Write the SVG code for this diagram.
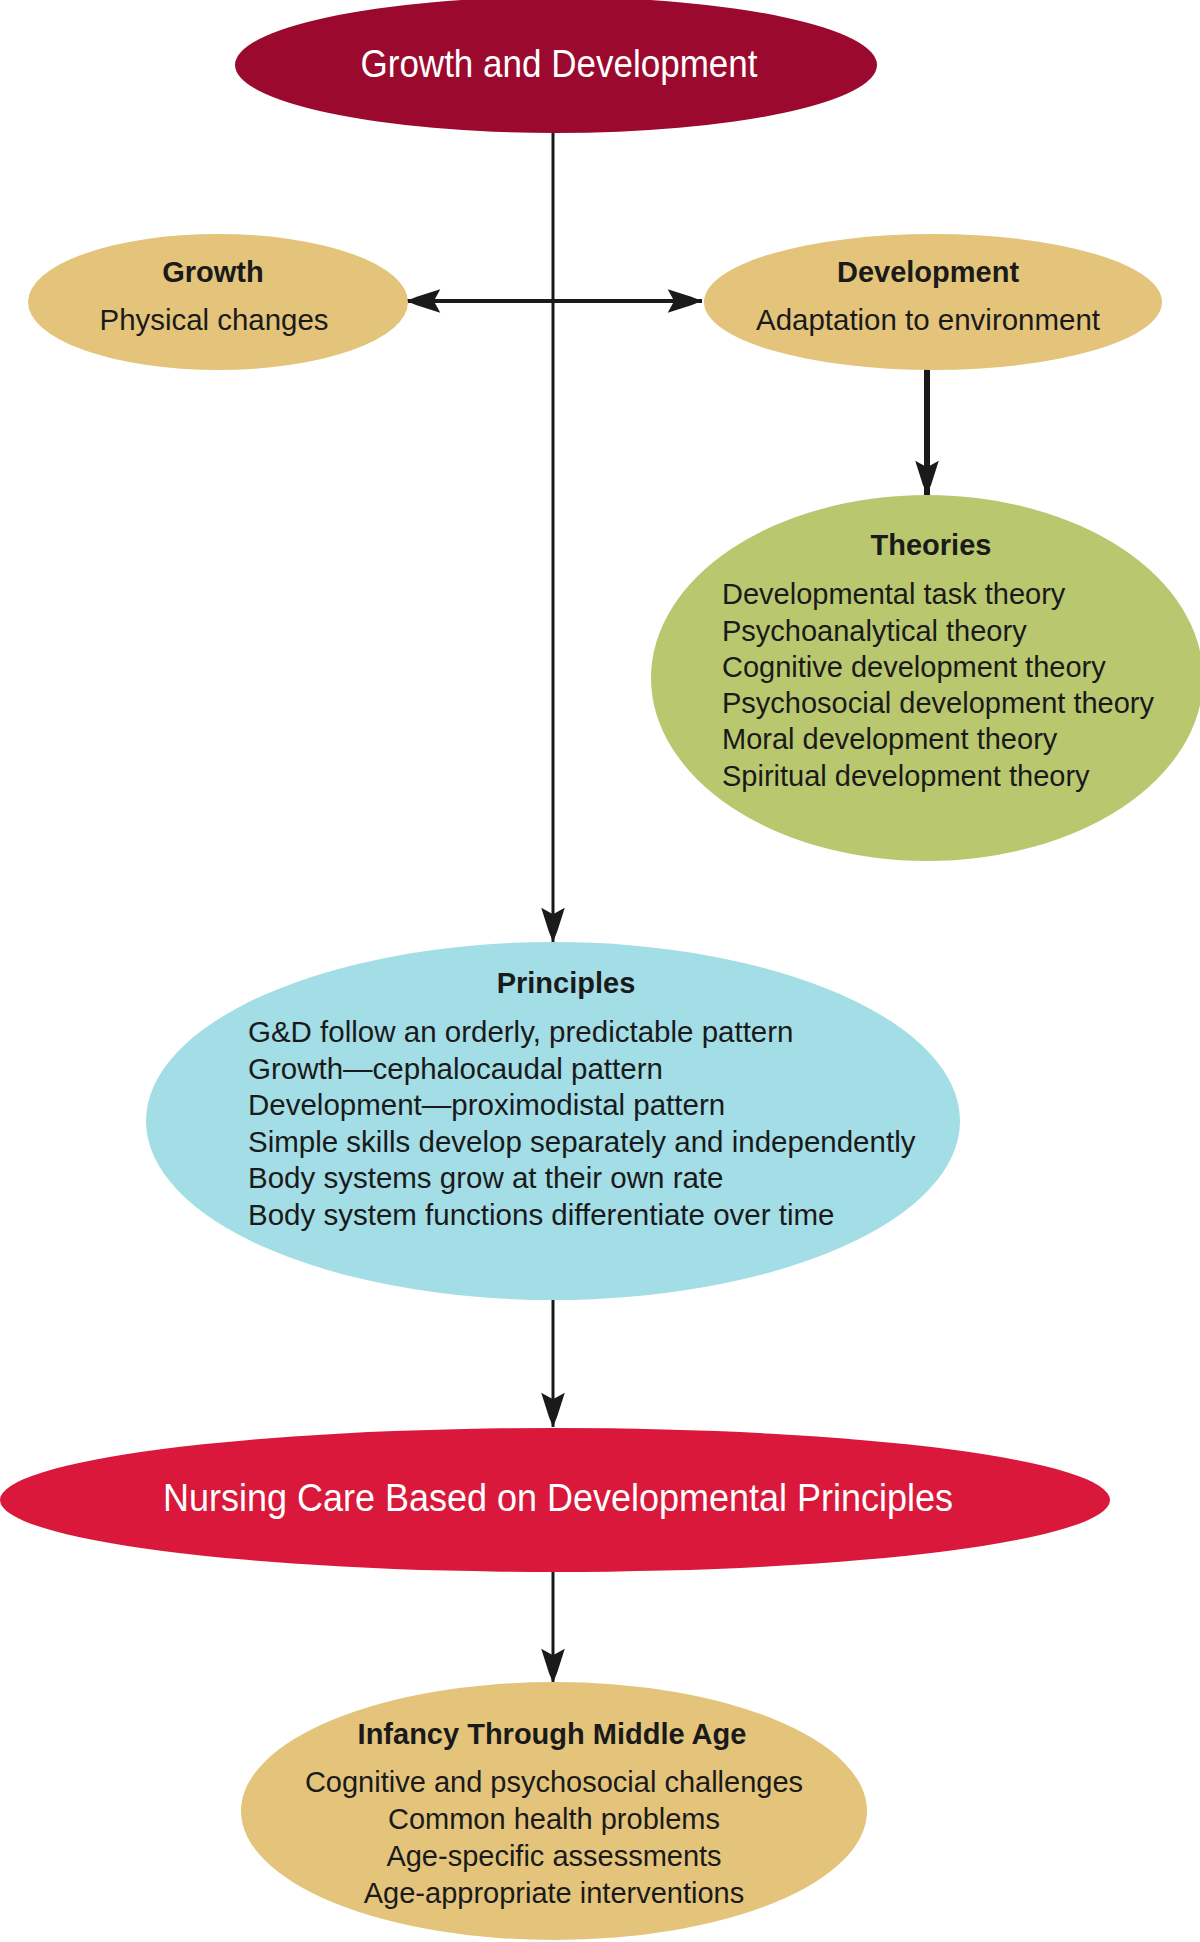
<svg xmlns="http://www.w3.org/2000/svg" width="1200" height="1942" viewBox="0 0 1200 1942">
<style>
text{font-family:"Liberation Sans",Arial,sans-serif;fill:#1a1a1a}
.t{font-size:29px}
.p{font-size:29.5px}
.b{font-size:29px;font-weight:bold}
.w{fill:#ffffff}
.c{text-anchor:middle}
.ln{stroke:#1a1a1a;fill:none}
</style>
<defs>
<marker id="ah" markerUnits="userSpaceOnUse" markerWidth="40" markerHeight="30" viewBox="-34 -14 36 28" refX="0" refY="0" orient="auto">
<path d="M0,0 L-10,-4 L-32,-11 L-26,0 L-32,11 L-10,4 Z" fill="#1a1a1a"/>
</marker>
<marker id="ahs" markerUnits="userSpaceOnUse" markerWidth="40" markerHeight="30" viewBox="-34 -14 36 28" refX="0" refY="0" orient="auto-start-reverse">
<path d="M0,0 L-10,-4 L-32,-11 L-26,0 L-32,11 L-10,4 Z" fill="#1a1a1a"/>
</marker>
</defs>
<g id="connectors">
<line class="ln" x1="553" y1="130" x2="553" y2="942" stroke-width="3" marker-end="url(#ah)"/>
<line class="ln" x1="406" y1="301" x2="702" y2="301" stroke-width="4" marker-start="url(#ahs)" marker-end="url(#ahs)"/>
<line class="ln" x1="927" y1="368" x2="927" y2="495" stroke-width="6" marker-end="url(#ah)"/>
<line class="ln" x1="553" y1="1298" x2="553" y2="1427" stroke-width="3" marker-end="url(#ah)"/>
<line class="ln" x1="553" y1="1570" x2="553" y2="1683" stroke-width="3" marker-end="url(#ah)"/>
</g>
<g id="node-growth-and-development">
<ellipse cx="556" cy="65" rx="321" ry="68" fill="#9b0a2e"/>
<text class="w c" x="559" y="77" font-size="39" textLength="397" lengthAdjust="spacingAndGlyphs">Growth and Development</text>
</g>
<g id="node-growth">
<ellipse cx="218" cy="302" rx="190" ry="68" fill="#e3c47a"/>
<text class="b c" x="213" y="282">Growth</text>
<text class="t c" x="214" y="330" textLength="229" lengthAdjust="spacingAndGlyphs">Physical changes</text>
</g>
<g id="node-development">
<ellipse cx="933" cy="302" rx="229" ry="68" fill="#e3c47a"/>
<text class="b c" x="928" y="282">Development</text>
<text class="t c" x="928" y="330" textLength="344" lengthAdjust="spacingAndGlyphs">Adaptation to environment</text>
</g>
<g id="node-theories">
<ellipse cx="927" cy="678" rx="276" ry="183" fill="#b9c76e"/>
<text class="b c" x="931" y="555">Theories</text>
<text class="t" x="722" y="604">Developmental task theory</text>
<text class="t" x="722" y="641">Psychoanalytical theory</text>
<text class="t" x="722" y="677">Cognitive development theory</text>
<text class="t" x="722" y="713">Psychosocial development theory</text>
<text class="t" x="722" y="749">Moral development theory</text>
<text class="t" x="722" y="786">Spiritual development theory</text>
</g>
<g id="node-principles">
<ellipse cx="553" cy="1121" rx="407" ry="179" fill="#a3dde6"/>
<text class="b c" x="566" y="993">Principles</text>
<text class="p" x="248" y="1042">G&amp;D follow an orderly, predictable pattern</text>
<text class="p" x="248" y="1079">Growth—cephalocaudal pattern</text>
<text class="p" x="248" y="1115">Development—proximodistal pattern</text>
<text class="p" x="248" y="1152">Simple skills develop separately and independently</text>
<text class="p" x="248" y="1188">Body systems grow at their own rate</text>
<text class="p" x="248" y="1225">Body system functions differentiate over time</text>
</g>
<g id="node-nursing-care">
<ellipse cx="555" cy="1500" rx="555" ry="72" fill="#d9183b"/>
<text class="w c" x="558" y="1511" font-size="38" textLength="790" lengthAdjust="spacingAndGlyphs">Nursing Care Based on Developmental Principles</text>
</g>
<g id="node-infancy">
<ellipse cx="554" cy="1811" rx="313" ry="129" fill="#e3c47a"/>
<text class="b c" x="552" y="1744">Infancy Through Middle Age</text>
<text class="t c" x="554" y="1792">Cognitive and psychosocial challenges</text>
<text class="t c" x="554" y="1829">Common health problems</text>
<text class="t c" x="554" y="1866">Age-specific assessments</text>
<text class="t c" x="554" y="1903">Age-appropriate interventions</text>
</g>
</svg>
